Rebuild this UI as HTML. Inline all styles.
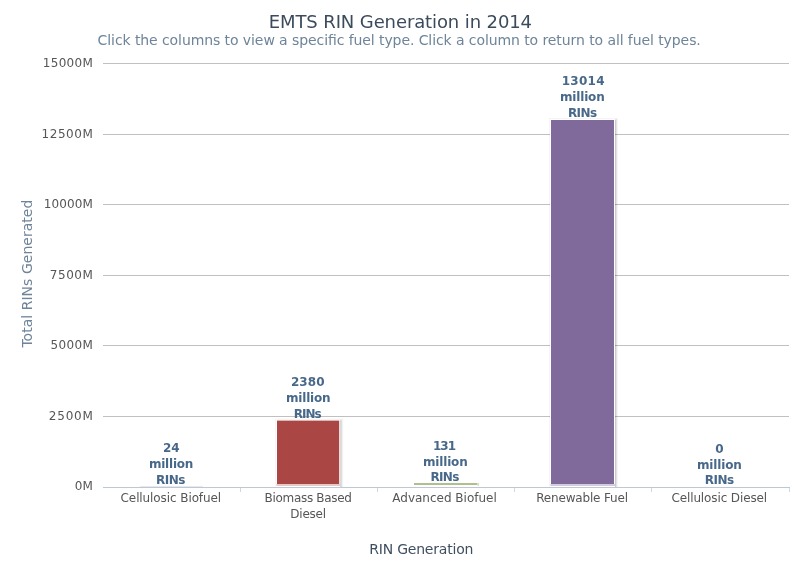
<!DOCTYPE html>
<html lang="en"><head><meta charset="utf-8"><title>EMTS RIN Generation in 2014</title>
<style>html,body{margin:0;padding:0;background:#fff;}body{width:800px;height:571px;overflow:hidden;}svg{display:block;font-family:"DejaVu Sans", "Liberation Sans", sans-serif;}</style>
</head><body>
<svg width="800" height="571" viewBox="0 0 800 571">
<rect x="0" y="0" width="800" height="571" fill="#FFFFFF"/>
<g stroke="#C0C0C0" stroke-width="1" shape-rendering="crispEdges">
<path d="M 103 63.5 L 789 63.5" fill="none"/>
<path d="M 103 134.5 L 789 134.5" fill="none"/>
<path d="M 103 204.5 L 789 204.5" fill="none"/>
<path d="M 103 275.5 L 789 275.5" fill="none"/>
<path d="M 103 345.5 L 789 345.5" fill="none"/>
<path d="M 103 416.5 L 789 416.5" fill="none"/>
</g>
<defs><clipPath id="plotclip"><rect x="103" y="63" width="687" height="424"/></clipPath></defs>
<g clip-path="url(#plotclip)">
<rect x="276.5" y="420.1" width="63.2" height="66.4" fill="none" stroke="#000" stroke-opacity="0.04" stroke-width="5" transform="translate(1,1)"/>
<rect x="276.5" y="420.1" width="63.2" height="66.4" fill="none" stroke="#000" stroke-opacity="0.07" stroke-width="3" transform="translate(1,1)"/>
<rect x="276.5" y="420.1" width="63.2" height="66.4" fill="none" stroke="#000" stroke-opacity="0.10" stroke-width="1" transform="translate(1,1)"/>
<rect x="276.0" y="419.6" width="64.2" height="67.4" fill="#FFFFFF"/>
<rect x="276.5" y="484.0" width="63.7" height="2.0" fill="#E6C8C7"/>
<rect x="277.0" y="420.6" width="62.2" height="63.4" fill="#AA4643"/>
<rect x="550.5" y="119.5" width="64.0" height="367.0" fill="none" stroke="#000" stroke-opacity="0.04" stroke-width="5" transform="translate(1,1)"/>
<rect x="550.5" y="119.5" width="64.0" height="367.0" fill="none" stroke="#000" stroke-opacity="0.07" stroke-width="3" transform="translate(1,1)"/>
<rect x="550.5" y="119.5" width="64.0" height="367.0" fill="none" stroke="#000" stroke-opacity="0.10" stroke-width="1" transform="translate(1,1)"/>
<rect x="550.0" y="119.0" width="65.0" height="368.0" fill="#FFFFFF"/>
<rect x="550.5" y="484.0" width="64.5" height="2.0" fill="#D4CADF"/>
<rect x="551.0" y="120.0" width="63.0" height="364.0" fill="#80699B"/>
<rect x="413" y="482" width="66" height="5" fill="#FFFFFF"/>
<rect x="414" y="483" width="63.5" height="2" fill="#B0C08C"/>
<rect x="477.5" y="483" width="1.5" height="3" fill="#D9DFC8"/>
<rect x="140" y="486" width="63" height="1" fill="#E6EAEF"/>
</g>
<g stroke="#D0D8E2" stroke-width="1" fill="none" shape-rendering="crispEdges">
<path d="M 103 487.5 L 790 487.5" stroke="#BEC8D4"/>
<path d="M 240.5 488 L 240.5 492"/>
<path d="M 377.5 488 L 377.5 492"/>
<path d="M 514.5 488 L 514.5 492"/>
<path d="M 651.5 488 L 651.5 492"/>
<path d="M 789.5 488 L 789.5 492"/>
</g>
<text x="268.80" y="27.70" font-size="18" fill="#3C4B5C" textLength="263.20" lengthAdjust="spacing">EMTS RIN Generation in 2014</text>
<text x="97.60" y="44.60" font-size="14" fill="#6D8499" textLength="603.20" lengthAdjust="spacing">Click the columns to view a specific fuel type. Click a column to return to all fuel types.</text>
<text x="42.70" y="66.50" font-size="12" fill="#565656" textLength="50.20" lengthAdjust="spacing">15000M</text>
<text x="41.50" y="137.70" font-size="12" fill="#565656" textLength="51.40" lengthAdjust="spacing">12500M</text>
<text x="43.70" y="207.70" font-size="12" fill="#565656" textLength="49.20" lengthAdjust="spacing">10000M</text>
<text x="49.80" y="278.70" font-size="12" fill="#565656" textLength="43.10" lengthAdjust="spacing">7500M</text>
<text x="50.60" y="349.40" font-size="12" fill="#565656" textLength="42.30" lengthAdjust="spacing">5000M</text>
<text x="48.80" y="419.60" font-size="12" fill="#565656" textLength="44.10" lengthAdjust="spacing">2500M</text>
<text x="74.70" y="490.40" font-size="12" fill="#565656" textLength="18.20" lengthAdjust="spacing">0M</text>
<text x="120.55" y="501.70" font-size="12" fill="#565656" textLength="100.60" lengthAdjust="spacing">Cellulosic Biofuel</text>
<text x="264.60" y="501.70" font-size="12" fill="#565656" textLength="87.30" lengthAdjust="spacing">Biomass Based</text>
<text x="290.30" y="517.70" font-size="12" fill="#565656" textLength="35.70" lengthAdjust="spacing">Diesel</text>
<text x="392.30" y="501.70" font-size="12" fill="#565656" textLength="104.50" lengthAdjust="spacing">Advanced Biofuel</text>
<text x="536.20" y="501.70" font-size="12" fill="#565656" textLength="91.80" lengthAdjust="spacing">Renewable Fuel</text>
<text x="671.45" y="501.70" font-size="12" fill="#565656" textLength="95.70" lengthAdjust="spacing">Cellulosic Diesel</text>
<text x="162.95" y="452.00" font-size="12" fill="#48688A" font-weight="bold" textLength="16.75" lengthAdjust="spacing">24</text>
<text x="148.90" y="468.20" font-size="12" fill="#48688A" font-weight="bold" textLength="44.50" lengthAdjust="spacing">million</text>
<text x="155.90" y="483.90" font-size="12" fill="#48688A" font-weight="bold" textLength="29.60" lengthAdjust="spacing">RINs</text>
<text x="290.90" y="386.40" font-size="12" fill="#48688A" font-weight="bold" textLength="33.60" lengthAdjust="spacing">2380</text>
<text x="285.90" y="402.20" font-size="12" fill="#48688A" font-weight="bold" textLength="44.75" lengthAdjust="spacing">million</text>
<text x="293.70" y="417.90" font-size="12" fill="#48688A" font-weight="bold" textLength="27.95" lengthAdjust="spacing">RINs</text>
<text x="432.95" y="449.70" font-size="12" fill="#48688A" font-weight="bold" textLength="23.15" lengthAdjust="spacing">131</text>
<text x="423.05" y="465.70" font-size="12" fill="#48688A" font-weight="bold" textLength="44.65" lengthAdjust="spacing">million</text>
<text x="430.50" y="481.40" font-size="12" fill="#48688A" font-weight="bold" textLength="28.90" lengthAdjust="spacing">RINs</text>
<text x="561.70" y="84.95" font-size="12" fill="#48688A" font-weight="bold" textLength="42.80" lengthAdjust="spacing">13014</text>
<text x="560.00" y="101.00" font-size="12" fill="#48688A" font-weight="bold" textLength="44.70" lengthAdjust="spacing">million</text>
<text x="567.90" y="116.80" font-size="12" fill="#48688A" font-weight="bold" textLength="29.30" lengthAdjust="spacing">RINs</text>
<text x="715.30" y="453.10" font-size="12" fill="#48688A" font-weight="bold" textLength="8.20" lengthAdjust="spacing">0</text>
<text x="697.00" y="469.10" font-size="12" fill="#48688A" font-weight="bold" textLength="44.80" lengthAdjust="spacing">million</text>
<text x="704.80" y="484.40" font-size="12" fill="#48688A" font-weight="bold" textLength="29.30" lengthAdjust="spacing">RINs</text>
<text x="369.20" y="553.60" font-size="14" fill="#404F60" textLength="104.20" lengthAdjust="spacing">RIN Generation</text>
<text x="0" y="0" font-size="14" fill="#6F8499" textLength="148" lengthAdjust="spacing" transform="translate(32.3,347.6) rotate(-90)">Total RINs Generated</text>
</svg>
</body></html>
